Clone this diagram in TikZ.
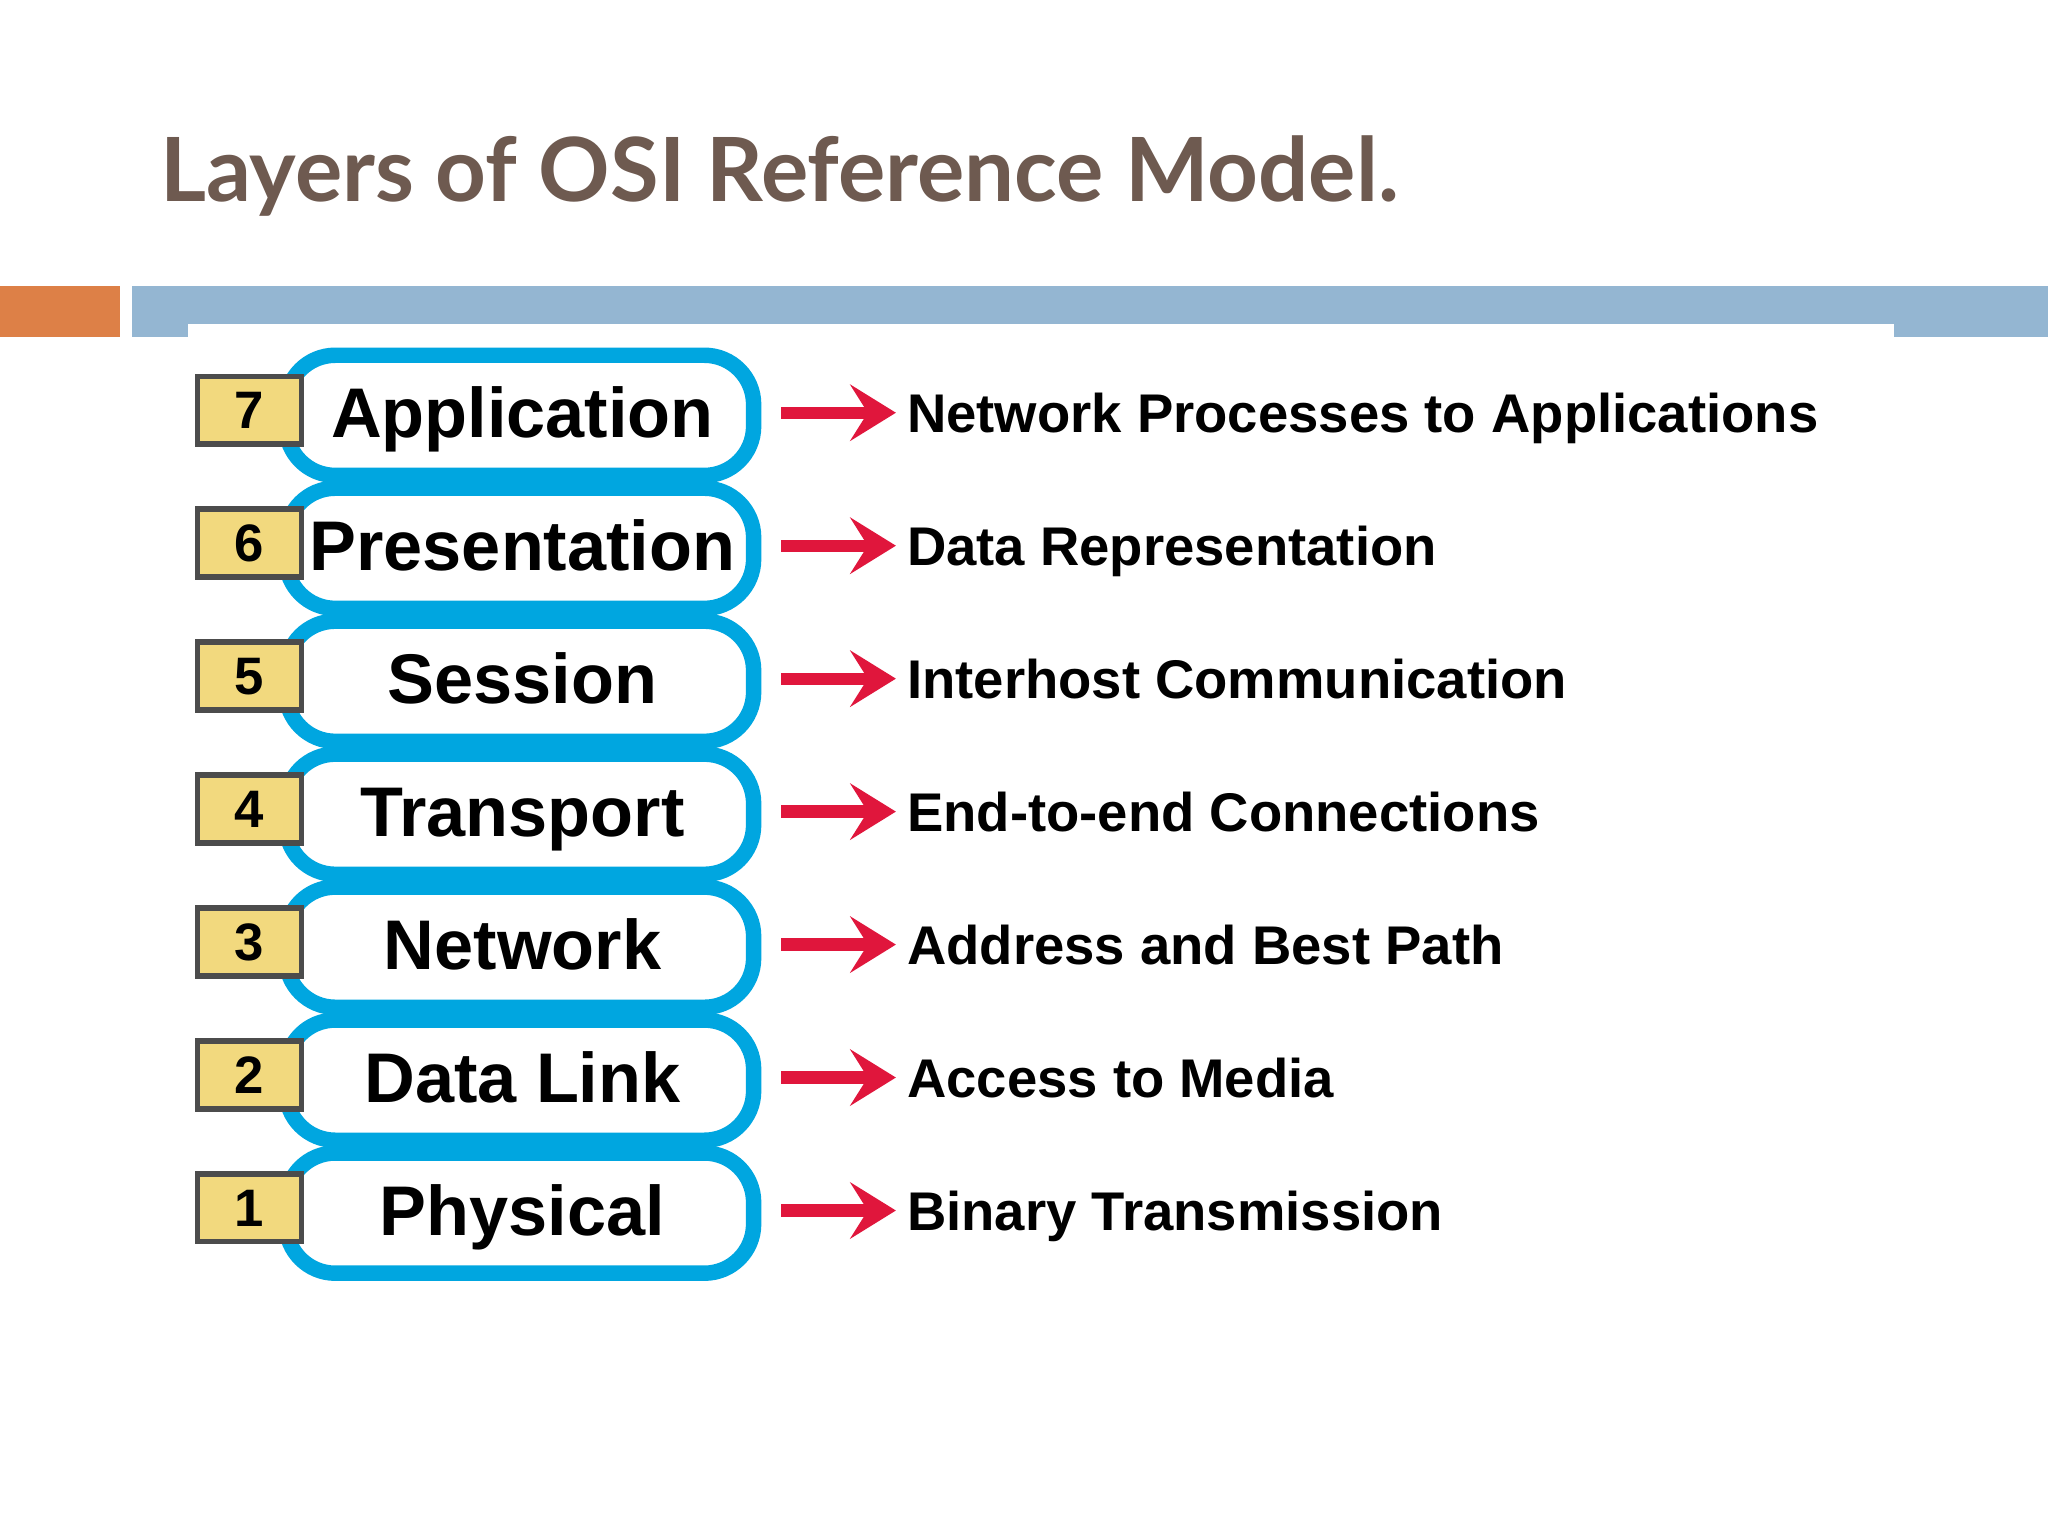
\documentclass[tikz,border=0pt]{standalone}
\usepackage{fontspec}
\setmainfont{Liberation Sans}
\newfontfamily\titlefont{Lato}
\usetikzlibrary{arrows.meta}
\definecolor{titlec}{HTML}{6E5A50}
\definecolor{barblue}{HTML}{94B6D2}
\definecolor{barorange}{HTML}{DD8047}
\definecolor{layerblue}{HTML}{00A6E0}
\definecolor{numyellow}{HTML}{F2D97E}
\definecolor{arrred}{HTML}{E0163C}
\begin{document}
\begin{tikzpicture}[x=0.01306cm,y=-0.01306cm,
  layer/.style={draw=layerblue,line width=4.4pt,rounded corners=14pt,minimum width=358*0.01306cm,minimum height=92*0.01306cm,inner sep=0pt},
  ltext/.style={font=\bfseries\fontsize{20}{24}\selectfont,inner sep=0pt,text height=14.3pt,text depth=0pt},
  num/.style={draw=black!70,line width=1.5pt,fill=numyellow,minimum width=80*0.01306cm,minimum height=52*0.01306cm,font=\bfseries\fontsize{15}{18}\selectfont,inner sep=0pt,text height=10.7pt,text depth=0pt},
  desc/.style={anchor=west,font=\bfseries\fontsize{15.5}{18}\selectfont,inner sep=0pt,text height=11.1pt,text depth=0pt},
  arr/.style={draw=arrred,line width=3.5pt,-{Stealth[length=13pt,width=16pt,inset=5pt]},shorten >=3pt}]
\useasboundingbox (0,0) rectangle (1568,1176);
\fill[white] (0,0) rectangle (1568,1176);
\node[anchor=west,text=titlec,font=\titlefont\bfseries\fontsize{25.2}{30}\selectfont,inner sep=0pt,text height=18pt,text depth=0pt] (title) at (122,130) {Layers of OSI Reference Model.};
\fill[barorange] (0,219) rectangle (92,258);
\fill[barblue] (101,219) rectangle (1568,258);
\fill[white] (144,248) rectangle (1450,258);
\foreach \n/\name/\d [count=\i] in {7/Application/Network Processes to Applications,
  6/Presentation/Data Representation,
  5/Session/Interhost Communication,
  4/Transport/End-to-end Connections,
  3/Network/Address and Best Path,
  2/Data Link/Access to Media,
  1/Physical/Binary Transmission}{
  \pgfmathsetmacro\yy{316+(\i-1)*101.8}
  \node[layer] (L\n) at (398,\yy+2) {};
  \node[num] (N\n) at (191,\yy-2) {\n};
  \node[ltext] (T\n) at (400,\yy) {\name};
  \node[desc] (D\n) at (694,\yy) {\d};
  \draw[arr] (598,\yy) -- (D\n.west);
}
\end{tikzpicture}
\end{document}
